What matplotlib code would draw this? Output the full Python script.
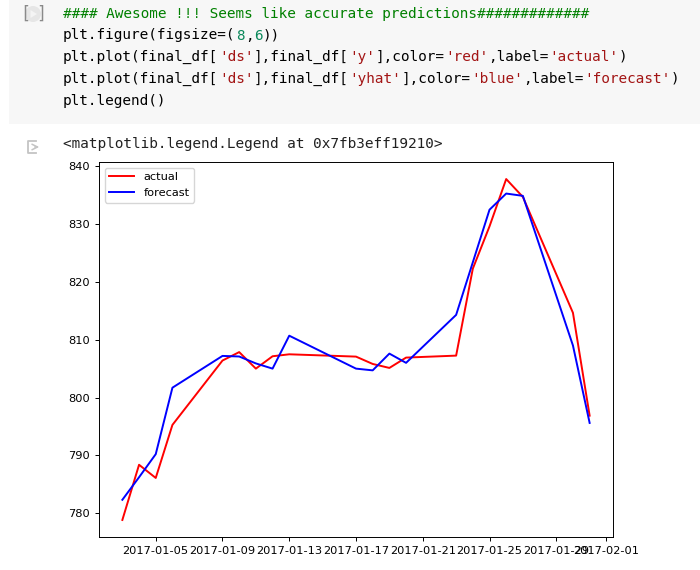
import pandas as pd
import matplotlib
matplotlib.use("Agg")
from matplotlib import pyplot as plt
import matplotlib.dates as mdates
from matplotlib.patches import Rectangle, Circle, Polygon

# trading days, January 2017
dates = pd.to_datetime([
    '2017-01-03', '2017-01-04', '2017-01-05', '2017-01-06', '2017-01-09',
    '2017-01-10', '2017-01-11', '2017-01-12', '2017-01-13', '2017-01-17',
    '2017-01-18', '2017-01-19', '2017-01-20', '2017-01-23', '2017-01-24',
    '2017-01-25', '2017-01-26', '2017-01-27', '2017-01-30', '2017-01-31',
])
actual = [778.81, 788.36, 786.08, 795.26, 806.40, 807.86, 805.00, 807.14, 807.48, 807.08,
          805.81, 805.12, 806.91, 807.25, 822.30, 829.62, 837.81, 834.71, 814.66, 796.86]
forecast = [782.3, 786.2, 790.2, 801.7, 807.2, 807.1, 805.9, 805.0, 810.7, 805.0,
            804.7, 807.6, 806.0, 814.3, 823.4, 832.5, 835.3, 834.9, 809.0, 795.6]

# notebook cell source, split into (text, colour) pieces
BLACK = '#000000'
GREEN = '#008000'
NUM = '#09885a'
STR = '#a31515'
code_lines = [
    [("#### Awesome !!! Seems like accurate predictions#############", GREEN)],
    [("plt.figure(figsize=(", BLACK), ("8", NUM), (",", BLACK), ("6", NUM), ("))", BLACK)],
    [("plt.plot(final_df[", BLACK), ("'ds'", STR), ("],final_df[", BLACK), ("'y'", STR),
     ("],color=", BLACK), ("'red'", STR), (",label=", BLACK), ("'actual'", STR), (")", BLACK)],
    [("plt.plot(final_df[", BLACK), ("'ds'", STR), ("],final_df[", BLACK), ("'yhat'", STR),
     ("],color=", BLACK), ("'blue'", STR), (",label=", BLACK), ("'forecast'", STR), (")", BLACK)],
    [("plt.legend()", BLACK)],
]
output_text = "<matplotlib.legend.Legend at 0x7fb3eff19210>"

W, H = 700, 570
fig = plt.figure(figsize=(W / 100, H / 100), dpi=100)

# background layer in pixel coordinates
bg = fig.add_axes([0, 0, 1, 1])
bg.set_xlim(0, W)
bg.set_ylim(H, 0)
bg.axis('off')

bg.add_patch(Rectangle((9, 0), W - 9, 124, facecolor='#f7f7f7', edgecolor='none'))

# run button
bg.add_patch(Circle((33, 14), 8, facecolor='#e6e6e6', edgecolor='none'))
bg.add_patch(Polygon([(30.5, 10), (30.5, 18), (37, 14)], closed=True, facecolor='#f4f4f4', edgecolor='none'))
bg.text(20, 14, "[", fontsize=12, color='#8a8a8a', va='center', ha='left', family='DejaVu Sans Mono')
bg.text(46, 14, "]", fontsize=12, color='#8a8a8a', va='center', ha='right', family='DejaVu Sans Mono')

# code text
char_w = 8.68
x0 = 63
line_y = [14, 35.5, 57, 79, 100.5]
for y, segs in zip(line_y, code_lines):
    col = 0
    for txt, c in segs:
        bg.text(x0 + col * char_w, y, txt, color=c, fontsize=10.4, family='DejaVu Sans Mono',
                va='center', ha='left')
        col += len(txt)

# output marker and text
icon = '#c4c4c4'
bg.plot([36, 28, 28, 36], [141, 141, 153, 153], color=icon, lw=1.3)
bg.annotate('', xy=(42, 147), xytext=(32, 147),
            arrowprops=dict(arrowstyle='->', color=icon, lw=1.1))
bg.text(x0, 144, output_text, color='#212121', fontsize=10.4, family='DejaVu Sans Mono',
        va='center', ha='left')

# chart
left, right, top, bottom = 99, 613, 162, 537
ax = fig.add_axes([left / W, 1 - bottom / H, (right - left) / W, (bottom - top) / H])
ax.plot(dates, actual, color='red', label='actual', lw=1.4)
ax.plot(dates, forecast, color='blue', label='forecast', lw=1.4)
ax.xaxis.set_major_locator(mdates.DayLocator(bymonthday=[1, 5, 9, 13, 17, 21, 25, 29]))
ax.xaxis.set_major_formatter(mdates.DateFormatter('%Y-%m-%d'))
ax.set_yticks([780, 790, 800, 810, 820, 830, 840])
ax.tick_params(labelsize=8.2, length=3, width=0.7)
for s in ax.spines.values():
    s.set_linewidth(0.7)
ax.legend(fontsize=8.2, loc='upper left', handlelength=2.2)

fig.savefig('out.png', dpi=100)
